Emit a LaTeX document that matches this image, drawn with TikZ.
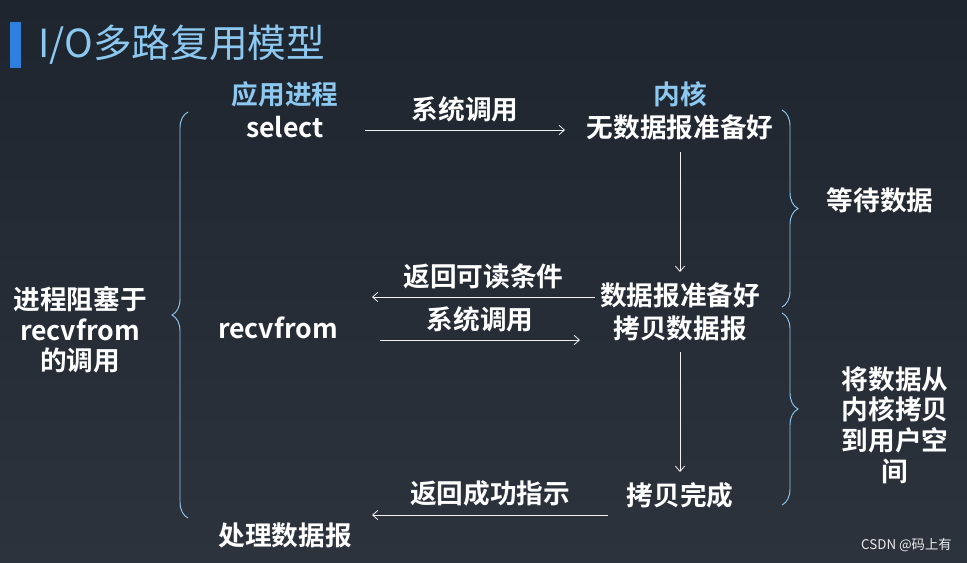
\documentclass[tikz,border=0pt]{standalone}
\usepackage{fontspec}
\setmainfont{Noto Sans CJK SC}[BoldFont={Noto Sans CJK SC Bold}]
\usetikzlibrary{decorations.pathreplacing,arrows.meta}
\definecolor{bgA}{HTML}{1E252E}
\definecolor{bgB}{HTML}{2C333D}
\definecolor{lblue}{HTML}{8CC8F0}
\definecolor{tblue}{HTML}{2F7FE0}
\tikzset{
 txt/.style={text=white,font=\fontsize{20}{23}\selectfont\bfseries,inner sep=0pt,align=center},
 hdr/.style={text=lblue,font=\fontsize{20}{23}\selectfont\bfseries,inner sep=0pt},
 arr/.style={draw=white!90!gray,line width=0.6pt,-{Straight Barb[length=4pt,width=7pt]}},
 br/.style={draw=lblue,line width=0.7pt,decorate,decoration={brace,amplitude=12pt}}
}
\begin{document}
\begin{tikzpicture}[x=0.75pt,y=-0.75pt]
\shade[top color=bgA,bottom color=bgB] (0,0) rectangle (967,562);
\useasboundingbox (0,0) rectangle (967,562);
\fill[tblue] (10,22) rectangle (21,68);
\node[anchor=west,text=lblue,font=\fontsize{29}{32}\selectfont,inner sep=0pt] (title) at (38,45) {I/O多路复用模型};
\node[hdr] (app) at (285,94) {应用进程};
\node[txt] (sel) at (285,127) {select};
\node[hdr] (kern) at (680,94) {内核};
\node[txt] (nod) at (680,127) {无数据报准备好};
\node[txt] (rdy) at (680,295) {数据报准备好};
\node[txt] (cpy) at (680,328) {拷贝数据报};
\node[txt] (rcv) at (278,328) {recvfrom};
\node[txt] (done) at (680,495) {拷贝完成};
\node[txt] (proc) at (285,535) {处理数据报};
\node[txt] (blk) at (80,330) {进程阻塞于\\recvfrom\\的调用};
\node[txt] (wait) at (880,200) {等待数据};
\node[txt] (copyk) at (895,425) {将数据从\\内核拷贝\\到用户空\\间};
\node[text=white!85!gray,font=\fontsize{10}{12}\selectfont,anchor=east,inner sep=0pt] (csdn) at (952,545) {CSDN @码上有};
\coordinate (a1) at (365,130); \coordinate (a1e) at (565,130);
\draw[arr] (a1) -- node[txt,above=6pt] {系统调用} (a1e);
\draw[arr] (nod.south) ++(0,12) coordinate (v1) (v1) -- (rdy.north |- 0,272);
\coordinate (a2) at (595,297); \coordinate (a2e) at (372,297);
\draw[arr] (a2) -- node[txt,above=6pt] {返回可读条件} (a2e);
\coordinate (a3) at (380,340); \coordinate (a3e) at (580,340);
\draw[arr] (a3) -- node[txt,above=6pt] {系统调用} (a3e);
\draw[arr] (680,352) -- (done.north |- 0,472);
\coordinate (a4) at (608,515); \coordinate (a4e) at (372,515);
\draw[arr] (a4) -- node[txt,above=6pt] {返回成功指示} (a4e);
\draw[br] (188,518) -- (188,112);
\draw[br] (782,110) -- (782,307);
\draw[br] (782,313) -- (782,505);
\end{tikzpicture}
\end{document}
